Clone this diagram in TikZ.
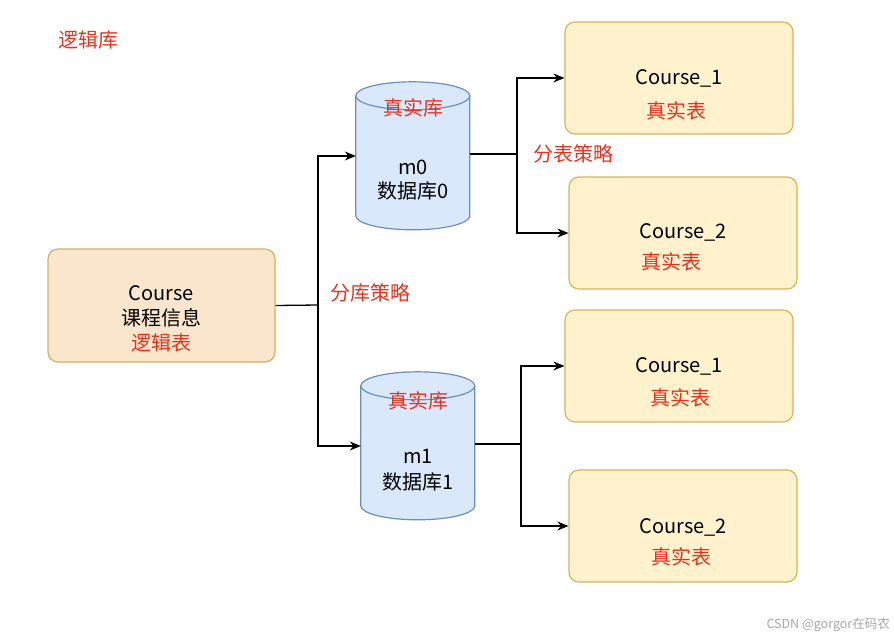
\documentclass[tikz,border=0pt]{standalone}
\usepackage{fontspec}
\setmainfont{Noto Sans CJK SC}
\usetikzlibrary{arrows.meta}
\definecolor{orf}{HTML}{FAE6CC}\definecolor{ord}{HTML}{D8B060}
\definecolor{yf}{HTML}{FFF2CC}\definecolor{yd}{HTML}{D6B656}
\definecolor{bf}{HTML}{DAE8FC}\definecolor{bd}{HTML}{6C8EBF}
\definecolor{rd}{HTML}{E8321E}
\begin{document}
\begin{tikzpicture}[x=1pt,y=-1pt,
  txt/.style={font=\fontsize{20}{22}\selectfont, inner sep=0},
  red/.style={txt, text=rd},
  box/.style={draw=yd, fill=yf, line width=1.2pt, rounded corners=10pt, minimum width=228pt, minimum height=112pt},
  cyl/.style={minimum width=114pt, minimum height=148pt, inner sep=0},
  con/.style={line width=1.3pt, -{Stealth[length=11pt,width=9pt]}},
  ln/.style={line width=1.3pt}]
\useasboundingbox (0,0) rectangle (894,640);
\node[red] (lk) at (88,40) {逻辑库};
\node[box, draw=ord, fill=orf, minimum width=227pt, minimum height=113pt] (c) at (161.5,305.5) {};
\node[txt] at (161,293) {Course};
\node[txt] at (161,318) {课程信息};
\node[red] at (161,343) {逻辑表};
\foreach \n/\cx/\cy in {m0/413/156, m1/418/446}{
  \node[cyl] (\n) at (\cx,\cy) {};
  \draw[draw=bd, fill=bf, line width=1.2pt] (\n.north west) ++(0,14) -- ++(0,120) arc[x radius=57, y radius=14, start angle=180, end angle=0] -- ++(0,-120) arc[x radius=57, y radius=14, start angle=0, end angle=-180] -- cycle;
  \draw[draw=bd, line width=1.2pt] (\n.north west) ++(0,14) arc[x radius=57, y radius=14, start angle=180, end angle=0];
}
\node[red] at (413,108) {真实库};
\node[txt] at (413,167) {m0};
\node[txt] at (413,191) {数据库0};
\node[red] at (418,401) {真实库};
\node[txt] at (418,456) {m1};
\node[txt] at (418,482) {数据库1};
\node[box] (b1) at (679,78) {};
\node[box] (b2) at (683,233) {};
\node[box] (b3) at (679,366) {};
\node[box] (b4) at (683,526) {};
\node[txt] at (679,78) {Course\_1};\node[red] at (676,111) {真实表};
\node[txt] at (683,232) {Course\_2};\node[red] at (671,262) {真实表};
\node[txt] at (679,366) {Course\_1};\node[red] at (680,398) {真实表};
\node[txt] at (683,527) {Course\_2};\node[red] at (681,557) {真实表};
\coordinate (j1) at (318,305);
\coordinate (j2) at (517,154);
\coordinate (j3) at (521,444);
\draw[ln] (c.east) -- (j1);
\draw[con] (j1) |- (m0.west);
\draw[con] (j1) |- (m1.west);
\draw[ln] (m0.east |- j2) -- (j2);
\draw[con] (j2) |- (b1.west);
\draw[con] (j2) |- (b2.west);
\draw[ln] (m1.east |- j3) -- (j3);
\draw[con] (j3) |- (b3.west);
\draw[con] (j3) |- (b4.west);
\node[red] at (370,293) {分库策略};
\node[red] at (573,154) {分表策略};
\node[font=\fontsize{12.5}{13}\selectfont, text=gray!70, anchor=east, inner sep=0] at (890,625) {CSDN @gorgor在码农};
\end{tikzpicture}
\end{document}
